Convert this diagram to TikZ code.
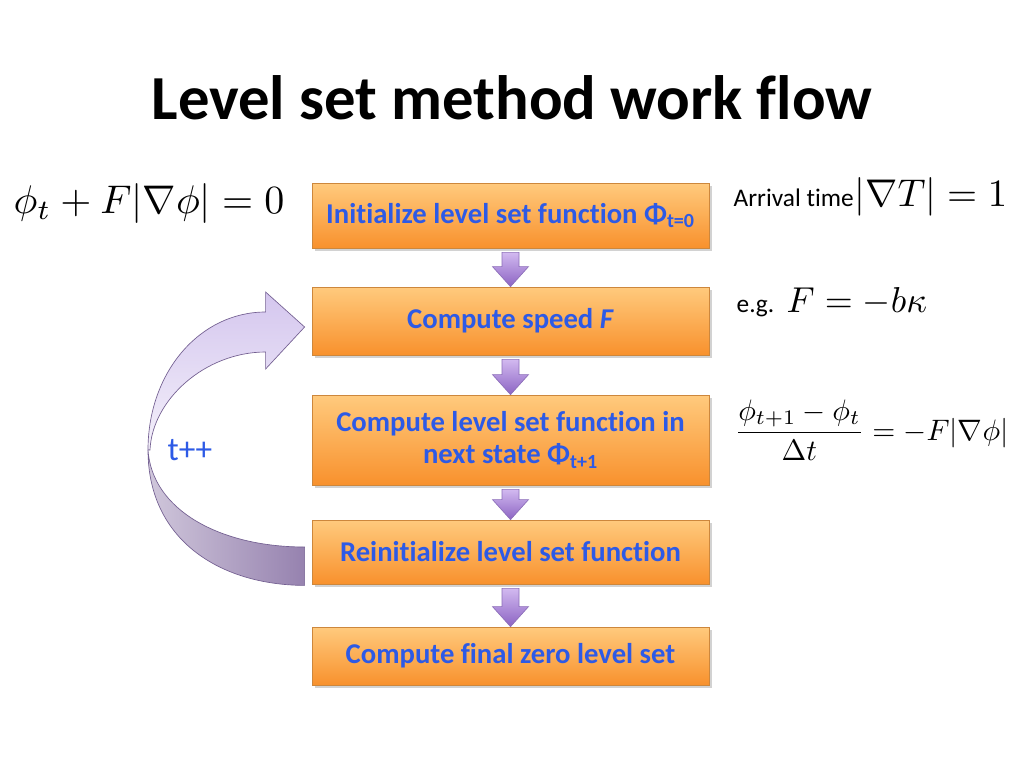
\documentclass[tikz,border=0pt]{standalone}
\usepackage[no-math]{fontspec}
\setmainfont{Carlito}[Ligatures=NoCommon]
\usepackage{amsmath}
\usetikzlibrary{calc,shadows}

\definecolor{boxblue}{RGB}{45,90,230}
\definecolor{boxtop}{RGB}{255,202,125}
\definecolor{boxbottom}{RGB}{248,145,45}
\definecolor{boxline}{RGB}{205,135,60}
\definecolor{arrowtop}{RGB}{210,185,240}
\definecolor{arrowbottom}{RGB}{140,100,195}
\definecolor{arrowline}{RGB}{140,110,185}
\definecolor{loopfront}{RGB}{212,198,238}
\definecolor{loopback}{RGB}{150,130,175}
\definecolor{loopline}{RGB}{115,95,145}

\newcommand{\bigmath}[2][3]{\scalebox{#1}{$#2$}}

\begin{document}
\begin{tikzpicture}[x=0.75pt,y=-0.75pt,
  stepbox/.style={draw=boxline, line width=0.6pt, top color=boxtop, bottom color=boxbottom,
    drop shadow={shadow xshift=2pt,shadow yshift=-2pt,opacity=0.35},
    minimum width=297.75pt, align=center, text=boxblue,
    font=\fontsize{21.5}{24}\selectfont\bfseries},
  sidenote/.style={font=\fontsize{19}{22}\selectfont, anchor=base west}]
\fill[white] (0,0) rectangle (1024,768);
\useasboundingbox (0,0) rectangle (1024,768);

\node[font=\fontsize{47}{50}\selectfont\bfseries] (title) at (512,98) {Level set method work flow};

% flow boxes
\node[stepbox, minimum height=48.75pt] (init) at (510.5,215.5)
      {Initialize level set function Φ\textsubscript{t=0}};
\node[stepbox, minimum height=51pt] (speed) at (510.5,321)
      {Compute speed \textit{F}};
\node[stepbox, minimum height=67.5pt] (update) at (510.5,440)
      {Compute level set function in\\next state Φ\textsubscript{t+1}};
\node[stepbox, minimum height=48pt] (reinit) at (510.5,552)
      {Reinitialize level set function};
\node[stepbox, minimum height=43.5pt] (final) at (510.5,656)
      {Compute final zero level set};

% block arrows between the steps
\foreach \a/\b in {init/speed,speed/update,update/reinit,reinit/final}
  \shade[top color=arrowtop, bottom color=arrowbottom, draw=arrowline, line width=0.5pt]
    ($(\a.south)+(-8.5,4)$) -- ($(\a.south)+(8.5,4)$) -- ($(\b.north)+(8.5,-20)$)
    -- ($(\b.north)+(18,-20)$) -- (\b.north) -- ($(\b.north)+(-18,-20)$)
    -- ($(\b.north)+(-8.5,-20)$) -- cycle;

% loop back arrow
\coordinate (tailin) at ($(reinit.west)+(-7,-5)$);
\coordinate (tailout) at ($(reinit.south west)+(-7,1)$);
\coordinate (tip) at ($(speed.west)+(-7,6)$);
\coordinate (turn) at (148,450);
\shade[left color=loopback!45!white, right color=loopback, draw=loopline, line width=0.5pt]
  (tailout) .. controls (220,585) and (148,540) .. (turn)
  .. controls (152,510) and (220,547) .. (tailin) -- cycle;
\shade[shading angle=45, bottom color=loopfront!25!white, top color=loopfront, draw=loopline, line width=0.5pt]
  (turn) .. controls (148,372) and (200,312) .. ($(tip)+(-39,-15)$)
  -- ($(tip)+(-39,-35)$) -- (tip) -- ($(tip)+(-39,42)$) -- ($(tip)+(-39,25)$)
  .. controls (205,352) and (152,400) .. (150,450) -- cycle;
\node[anchor=west, text=boxblue, font=\fontsize{25}{28}\selectfont] (count) at (163,450) {t++};

% equations
\node (pde) at (149,203) {\bigmath{\phi_t + F|\nabla\phi| = 0}};
\node[sidenote] (arrival) at (729,206) {Arrival time};
\node[anchor=base west] (eikonal) at (850,206) {\bigmath[2.9]{|\nabla T| = 1}};
\node[sidenote] (eg) at (732,312) {e.g.};
\node[anchor=base west] (speedeq) at (782,312) {\bigmath[2.7]{F = -b\kappa}};
\node[anchor=west] (scheme) at (730,430)
      {\scalebox{2.22}{$\displaystyle\frac{\phi_{t+1}-\phi_t}{\Delta t} = -F|\nabla\phi|$}};
\end{tikzpicture}
\end{document}
